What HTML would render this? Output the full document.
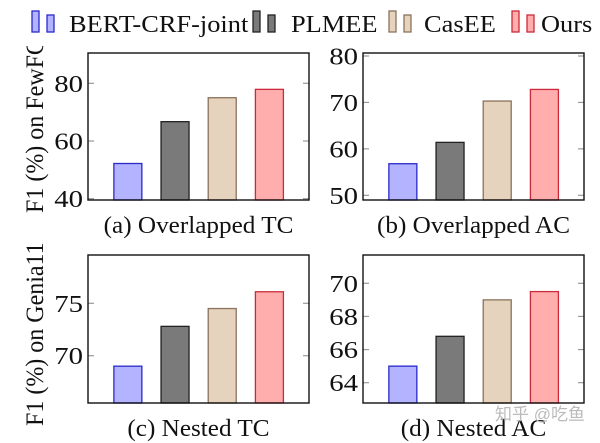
<!DOCTYPE html>
<html><head><meta charset="utf-8"><style>
html,body{margin:0;padding:0;background:#fff;}
svg{display:block;font-family:"Liberation Serif",serif;}
</style></head><body>
<svg id="chart" width="600" height="443" viewBox="0 0 600 443" xmlns="http://www.w3.org/2000/svg">
<defs>
<clipPath id="clipTop"><rect x="0" y="46" width="60" height="190"/></clipPath>
<clipPath id="clipBot"><rect x="0" y="240" width="60" height="200"/></clipPath>
</defs>
<g id="legend"></g>
<g clip-path="url(#clipTop)"><text transform="translate(43,213) rotate(-90) scale(1,1.05)" font-size="24" fill="#111">F1 (%) on FewFC</text></g>
<g clip-path="url(#clipBot)"><text transform="translate(43,426) rotate(-90) scale(1,1.05)" font-size="24" fill="#111">F1 (%) on Genia11</text></g>
<g id="panels"></g>
<text x="495" y="420" font-size="17" fill="#bbb" font-family="'Liberation Sans','Noto Sans CJK SC',sans-serif">知乎 @吃鱼</text>
</svg>
<script>
const methods = ["BERT-CRF-joint","PLMEE","CasEE","Ours"];
const fills = ["#b3b3ff","#7a7a7a","#e6d3bd","#ffadad"];
const strokes = ["#2a2acc","#222222","#8a725c","#cc2a3a"];
const titles = ["(a) Overlapped TC","(b) Overlapped AC","(c) Nested TC","(d) Nested AC"];
const valuesA = [52.2, 66.7, 75.0, 77.9];
const valuesB = [56.8, 61.4, 70.3, 72.8];
const valuesC = [69.0, 72.8, 74.5, 76.1];
const valuesD = [65.0, 66.8, 69.0, 69.5];
const ticksA = [40, 60, 80];
const ticksB = [50, 60, 70, 80];
const ticksC = [70, 75];
const ticksD = [64, 66, 68, 70];
const NS = "http://www.w3.org/2000/svg";
const panelsG = document.getElementById("panels");
function mk(tag, attrs, parent){const e=document.createElementNS(NS,tag);for(const k in attrs)e.setAttribute(k,attrs[k]);parent.appendChild(e);return e;}
function txt(x,y,s,size,anchor,sx,parent){
  const t=mk("text",{transform:"translate("+x+","+y+") scale("+sx+",1)","font-size":size,"text-anchor":anchor,fill:"#111"},parent);
  t.textContent=s;return t;
}
const leg = document.getElementById("legend");
const legX = [32, 253, 389, 512];
const legTX = [69, 291, 424, 541];
methods.forEach((m,i)=>{
  const g = mk("g",{},leg);
  
  
  mk("rect",{x:legX[i],y:11,width:7,height:21,fill:fills[i],stroke:strokes[i],"stroke-width":1.3},g);
  mk("rect",{x:legX[i]+15,y:15,width:7,height:17,fill:fills[i],stroke:strokes[i],"stroke-width":1.3},g);
  txt(legTX[i],32,m,24,"start",1.1,g);
});
const panels = [
  {vals:valuesA,ticks:ticksA,x0:88,x1:309,y0:53,y1:200},
  {vals:valuesB,ticks:ticksB,x0:363,x1:584,y0:53,y1:200},
  {vals:valuesC,ticks:ticksC,x0:88,x1:309,y0:255,y1:403},
  {vals:valuesD,ticks:ticksD,x0:363,x1:584,y0:255,y1:403}
];
const cal = [[40,198.7,80,83.3],[50,195.3,80,56],[70,355.7,75,303.3],[64,382.7,70,283.3]];
panels.forEach((p,pi)=>{
  const [va,pa,vb,pb]=cal[pi];
  const y = v => pa + (v-va)*(pb-pa)/(vb-va);
  const g = mk("g",{},panelsG);
  
  
  p.ticks.forEach(t=>{
    const ty=y(t);
    mk("line",{x1:p.x0,x2:p.x0+6,y1:ty,y2:ty,stroke:"#999","stroke-width":1.2},g);
    mk("line",{x1:p.x1-6,x2:p.x1,y1:ty,y2:ty,stroke:"#999","stroke-width":1.2},g);
    const tl=txt(p.x0-5,ty+8.5,String(t),24,"end",1.2,g);
    
    
  });
  const w = p.x1-p.x0;
  p.vals.forEach((v,i)=>{
    const bx = p.x0 + w*(0.117 + i*0.2135);
    const top = y(v);
    const r=mk("rect",{x:bx,y:top,width:28,height:p.y1-top,fill:fills[i],stroke:strokes[i],"stroke-width":1.3},g);
    
    
  });
  const fr=mk("rect",{x:p.x0,y:p.y0,width:w,height:p.y1-p.y0,fill:"none",stroke:"#111","stroke-width":1.4},g);
  
  
  const tt=txt((p.x0+p.x1)/2,p.y1+33,titles[pi],24,"middle",1.05,g);
  
  
});
</script>
</body></html>
